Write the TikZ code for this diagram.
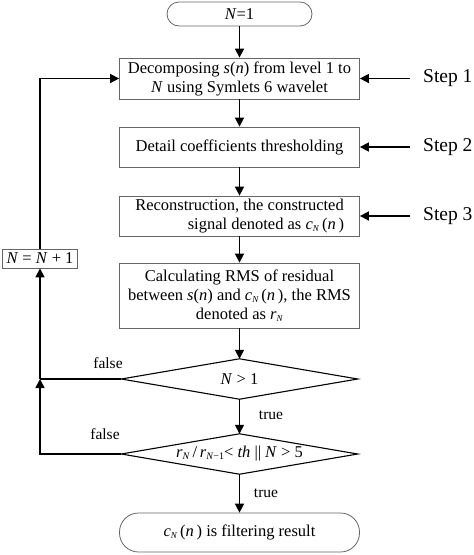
\documentclass[tikz,border=0pt]{standalone}
\usepackage{fontspec}
\setmainfont{Liberation Serif}
\usetikzlibrary{arrows.meta}
\newcommand{\ti}[1]{\textit{#1}}
\newcommand{\cN}{\textit{c}\raisebox{-0.25ex}{\fontsize{9}{9}\selectfont\textit{N}}\,(\textit{n}\,)}
\begin{document}
\begin{tikzpicture}[x=1pt,y=-1pt,
  font=\fontsize{16.5}{19}\selectfont,
  box/.style={draw=black!60,line width=0.8pt,rectangle,minimum width=240pt,inner sep=0pt,align=center},
  term/.style={draw=black!60,line width=0.8pt,rectangle,rounded corners=12pt,inner sep=0pt},
  dec/.style={rectangle,minimum width=236pt,minimum height=40pt,inner sep=0pt},
  decline/.style={draw=black,line width=1.1pt},
  conn/.style={line width=1.6pt,-{Triangle[length=9pt,width=9pt]}},
  line/.style={line width=1.6pt},
  lbl/.style={inner sep=0pt,font=\fontsize{15.5}{18}\selectfont},
  steplbl/.style={inner sep=0pt,font=\fontsize{19.5}{22}\selectfont}]
\useasboundingbox (0,0) rectangle (474,555);
\node[term,minimum width=145pt,minimum height=24pt] (start) at (239.5,14) {\ti{N}=1};
\node[box,minimum height=41pt] (b1) at (239.5,78.5) {Decomposing \ti{s}(\ti{n}) from level 1 to\\\ti{N} using Symlets 6 wavelet};
\node[box,minimum height=40pt] (b2) at (239.5,147) {Detail coefficients thresholding};
\node[box,minimum height=40pt] (b3) at (239.5,216) {Reconstruction, the constructed\\\hspace*{3.2em}signal denoted as \cN};
\node[box,minimum height=65pt] (b4) at (239.5,295.5) {Calculating RMS of residual\\between \ti{s}(\ti{n}) and \cN, the RMS\\denoted as \ti{r}\raisebox{-0.25ex}{\fontsize{9}{9}\selectfont\ti{N}}};
\node[dec] (d1) at (239.5,379) {\ti{N} > 1};
\draw[decline] (d1.west) -- (d1.north) -- (d1.east) -- (d1.south) -- cycle;
\node[dec] (d2) at (239.5,454) {\ti{r}\raisebox{-0.25ex}{\fontsize{10}{10}\selectfont\ti{N}}\,/\,\ti{r}\raisebox{-0.25ex}{\fontsize{10}{10}\selectfont\ti{N}−1}< \ti{th} || \ti{N} > 5};
\draw[decline] (d2.west) -- (d2.north) -- (d2.east) -- (d2.south) -- cycle;
\node[term,rounded corners=19pt,minimum width=240pt,minimum height=39pt] (end) at (239.5,532.5) {\cN{} is filtering result};
\node[box,minimum width=75pt,minimum height=19pt] (nn) at (40,258.5) {\ti{N} = \ti{N} + 1};
\coordinate (s1) at (410,78.5);
\coordinate (s2) at (410,147);
\coordinate (s3) at (410,216);
\node[steplbl,anchor=west] (l1) at (423,78.5) {Step 1};
\node[steplbl,anchor=west] (l2) at (423,147) {Step 2};
\node[steplbl,anchor=west] (l3) at (423,216) {Step 3};
\draw[conn] (s1) -- (b1.east);
\draw[conn] (s2) -- (b2.east);
\draw[conn] (s3) -- (b3.east);
\draw[conn] (start) -- (b1);
\draw[conn] (b1) -- (b2);
\draw[conn] (b2) -- (b3);
\draw[conn] (b3) -- (b4);
\draw[conn] (b4) -- (d1.north);
\draw[conn] (d1.south) -- (d2.north);
\draw[conn] (d2.south) -- (end);
\coordinate (j1) at (40,379);
\coordinate (j2) at (40,454);
\draw[line] (d1.west) -- (j1);
\draw[conn] (d2.west) -- (j2) -- (j1);
\draw[conn] (j1) -- (nn.south);
\draw[conn] (nn.north) |- (b1.west);
\node[lbl] (f1) at (108,363) {false};
\node[lbl] (f2) at (105,434) {false};
\node[lbl] (t1) at (271,415) {true};
\node[lbl] (t2) at (266,493) {true};
\end{tikzpicture}
\end{document}
